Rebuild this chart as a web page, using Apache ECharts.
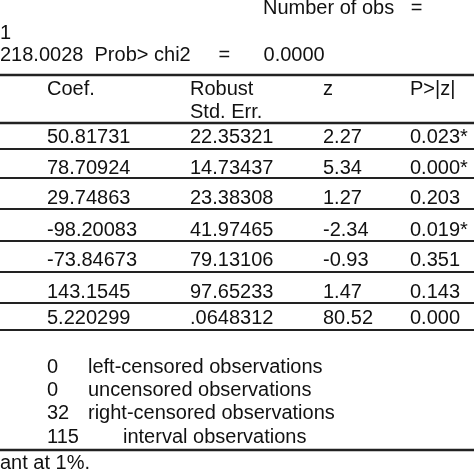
<!DOCTYPE html>
<html>
<head>
<meta charset="utf-8">
<script src="https://cdn.jsdelivr.net/npm/echarts@6/dist/echarts.min.js"></script>
<style>html,body{margin:0;padding:0;background:#fff}#main{width:474px;height:474px}</style>
</head>
<body>
<div id="main"></div>
<script>
// table contents
const headerLines = [
    {text: 'Number of obs   =', x: 263, y: 8},
    {text: '1', x: 0, y: 33},
    {text: '218.0028  Prob> chi2     =      0.0000', x: 0, y: 55}
];
const colX = [47, 190, 323, 410];
const colHeads = [['Coef.'], ['Robust', 'Std. Err.'], ['z'], ['P>|z|']];
const coef = ['50.81731', '78.70924', '29.74863', '-98.20083', '-73.84673', '143.1545', '5.220299'];
const stdErr = ['22.35321', '14.73437', '23.38308', '41.97465', '79.13106', '97.65233', '.0648312'];
const zVals = ['2.27', '5.34', '1.27', '-2.34', '-0.93', '1.47', '80.52'];
const pVals = ['0.023*', '0.000*', '0.203', '0.019*', '0.351', '0.143', '0.000'];
const rowY = [137, 168, 198, 230, 260, 292, 318];
const ruleY = [75, 123, 149, 178, 209, 241, 272, 303, 330, 450];
const censCounts = ['0', '0', '32', '115'];
const censText = ['left-censored observations', 'uncensored observations', 'right-censored observations', 'interval observations'];
const censTextX = [88, 88, 88, 123];
const censY = [367, 390, 413, 437];
const footnote = 'ant at 1%.';

const font = '20px "Liberation Sans", Arial, sans-serif';
const elements = [];

function txt(s, x, y) {
    elements.push({type: 'text', x: x, y: y, style: {text: s, font: font, fill: '#111', textVerticalAlign: 'middle'}});
}

headerLines.forEach(h => txt(h.text, h.x, h.y));
colHeads.forEach((lines, i) => lines.forEach((s, j) => txt(s, colX[i], 89 + j * 23)));
[coef, stdErr, zVals, pVals].forEach((col, i) => col.forEach((s, r) => txt(s, colX[i], rowY[r])));
censCounts.forEach((s, i) => {
    txt(s, 47, censY[i]);
    txt(censText[i], censTextX[i], censY[i]);
});
txt(footnote, 0, 463);
ruleY.forEach((y, i) => {
    elements.push({
        type: 'line', shape: {x1: 0, y1: y, x2: 474, y2: y},
        style: {stroke: '#222', lineWidth: (i === 0 || i === ruleY.length - 1 || i === 1) ? 2.5 : 2}
    });
});

const chart = echarts.init(document.getElementById('main'));
chart.setOption({backgroundColor: '#fff', animation: false, graphic: {elements: elements}});
</script>
</body>
</html>
